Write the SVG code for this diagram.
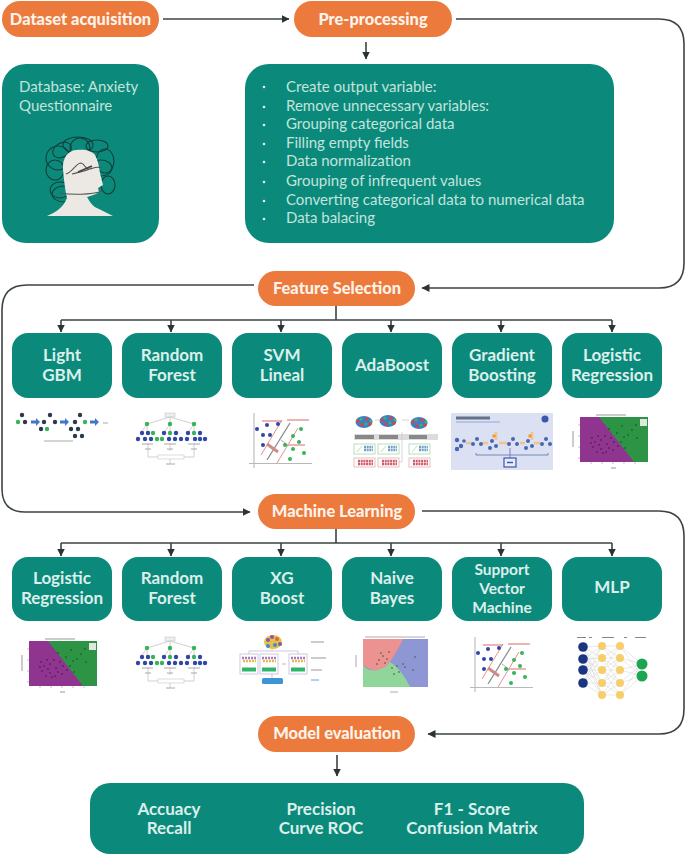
<svg xmlns="http://www.w3.org/2000/svg" xmlns:xlink="http://www.w3.org/1999/xlink" width="685" height="857" viewBox="0 0 685 857">
<style>
text{font-family:"Lato","Open Sans","Liberation Sans",sans-serif}
.pill{fill:#ec7a3c}
.box{fill:#0b8a7b}
.pt{fill:#fdf3ea;font-size:16.4px;font-weight:900;text-anchor:middle}
.bt{fill:#dcefeb;font-size:17px;font-weight:700;text-anchor:middle}
.bs{fill:#dcefeb;font-size:15.5px;font-weight:700;text-anchor:middle}
.lt{fill:#c3e3dd;font-size:15px}
.ct{fill:#dcefeb;font-size:17px;font-weight:700;text-anchor:middle}
.dot{fill:#dcefeb}
.c{fill:none;stroke:#3c4443;stroke-width:1.6}
.thin{fill:none;stroke:#c4c4c4;stroke-width:.8}
.b{fill:#2f46a8}.g{fill:#35b558}.d{fill:#2c3a4c}
.red{fill:none;stroke:#e58585;stroke-width:.9}
.cap{stroke:#a8a8a8;stroke-width:1;fill:none}
.fig{filter:url(#soft)}
</style>
<defs>
<filter id="soft" x="-10%" y="-10%" width="120%" height="120%"><feGaussianBlur stdDeviation="0.45"/></filter>
<marker id="ah" markerWidth="9" markerHeight="9" refX="7.500" refY="4" orient="auto" markerUnits="userSpaceOnUse"><path d="M0 0L8 4L0 8Z" fill="#2c3433"/></marker>
<g id="forest">
<rect x="28" y="0" width="10" height="4" fill="#eee" stroke="#bbb" stroke-width=".5"/>
<path class="thin" d="M33 4L10 11M33 4V11M33 4L57 11M10 11L4 20M10 11V20M33 11L27 20M33 11V20M57 11L51 20M57 11V20M11 30V38M33 30V38M57 30V38M11 38V44H57V38M33 46V51"/>
<g class="g"><circle cx="10" cy="11" r="2.200"/><circle cx="33" cy="11" r="2.200"/><circle cx="57" cy="11" r="2.200"/><circle cx="16" cy="20" r="2.200"/><circle cx="20" cy="26" r="2.200"/><circle cx="25" cy="26" r="2.200"/><circle cx="33" cy="20" r="2.200"/><circle cx="57" cy="20" r="2.200"/></g>
<g class="b"><circle cx="5" cy="20" r="2.200"/><circle cx="11" cy="20" r="2.200"/><circle cx="27" cy="20" r="2.200"/><circle cx="39" cy="20" r="2.200"/><circle cx="51" cy="20" r="2.200"/><circle cx="63" cy="20" r="2.200"/><circle cx="1" cy="26" r="2.200"/><circle cx="8" cy="26" r="2.200"/><circle cx="14" cy="26" r="2.200"/><circle cx="32" cy="26" r="2.200"/><circle cx="38" cy="26" r="2.200"/><circle cx="44" cy="26" r="2.200"/><circle cx="50" cy="26" r="2.200"/><circle cx="58" cy="26" r="2.200"/><circle cx="63" cy="26" r="2.200"/><circle cx="68" cy="26" r="2.200"/></g>
<rect x="21" y="42" width="26" height="4" fill="#fff" stroke="#bbb" stroke-width=".5"/>
<path class="cap" d="M5 31H16M27 31H39M51 31H63M8 36H14M30 36H36M54 36H60M29 51H38"/>
</g>
<g id="svm">
<path d="M5 0V55M0 50.500H63" fill="none" stroke="#b9b9b9" stroke-width="1.100"/>
<path class="red" d="M12 42L33 7M28 50L49 15"/>
<path d="M18 47L41 10" fill="none" stroke="#8a8a8a" stroke-width="1.300"/>
<path d="M13 8H33M38 7H60M40 32H56" stroke="#dd6a6a" stroke-width="1" fill="none"/>
<path d="M18 31L29 39" stroke="#d08a8a" stroke-width="3" fill="none"/>
<path d="M32 27L40 33" stroke="#999" stroke-width=".8" fill="none"/>
<g class="b"><circle cx="8" cy="16" r="2"/><circle cx="18" cy="12" r="2"/><circle cx="29" cy="11" r="2"/><circle cx="14" cy="22" r="2"/><circle cx="21" cy="22" r="2"/><circle cx="14" cy="32" r="2"/></g>
<g class="g"><circle cx="44" cy="23" r="2"/><circle cx="52" cy="16" r="2"/><circle cx="36" cy="32" r="2"/><circle cx="50" cy="29" r="2"/><circle cx="44" cy="36" r="2"/><circle cx="55" cy="40" r="2"/><circle cx="41" cy="46" r="2"/></g>
</g>
<g id="logit">
<rect x="0" y="0" width="68" height="45" fill="#2e9444"/>
<path d="M0 0H19L54 45H0Z" fill="#8f358f"/>
<rect x="60" y="2" width="7" height="7" fill="#dfe8df"/>
<path d="M11 21h2M14 25h2M17 19h2M20 23h2M12 30h2M20 32h2M26 27h2M30 21h2M16 35h2M25 35h2M32 33h2M37 29h2M24 19h2M10 26h2M28 31h2M18 28h2M33 25h2M22 36h2" stroke="#4a1a50" stroke-width="1.200"/>
<path d="M28 12h2M41 9h2M47 18h2M56 21h2M40 25h2M44 31h2M51 13h2M36 16h2M43 20h2M55 8h2" stroke="#14502a" stroke-width="1.200"/>
<path d="M11 45v2M22 45v2M33 45v2M44 45v2M55 45v2M-2 8h2M-2 19h2M-2 30h2M-2 41h2" stroke="#999" stroke-width=".6"/>
<path d="M-7 14V30M31 51H36M16 -2H46" stroke="#999" stroke-width="1"/>
</g>
<g id="cloud">
<ellipse cx="0" cy="0" rx="8.500" ry="6" fill="#3a7fc8"/>
<g fill="#d8453f"><circle cx="-6" cy="-1" r="1.700"/><circle cx="-2" cy="3" r="1.700"/><circle cx="3" cy="-3" r="1.700"/><circle cx="6" cy="2" r="1.700"/></g>
<g fill="#45b06e"><circle cx="-3" cy="-3" r="1.500"/><circle cx="2" cy="2" r="1.500"/><circle cx="7" cy="-1" r="1.500"/></g>
</g>
<g id="adapanel">
<rect x="0" y="0" width="21" height="10" fill="#fff" stroke="#a8d8b0" stroke-width=".8"/>
<path d="M3 8L8 2" stroke="#8fc89a" stroke-width=".6"/>
<path d="M10 3h9M10 6h9" stroke="#6f9fc8" stroke-width="2.500" stroke-dasharray="2 .7"/>
<rect x="0" y="14" width="21" height="9" fill="#fff" stroke="#e4b0b0" stroke-width=".8"/>
<path d="M4 17h15M4 20h15" stroke="#d05a6a" stroke-width="2.500" stroke-dasharray="2 .7"/>
</g>
<g id="xgpanel">
<rect x="0" y="0" width="18" height="20" fill="#fff" stroke="#cdbfe0" stroke-width=".9"/>
<path d="M2 4h14" stroke="#a878c8" stroke-width="2.500" stroke-dasharray="2 1"/>
<path d="M3 7h13" stroke="#e8b840" stroke-width="2.500" stroke-dasharray="2 1"/>
<path d="M2 15.500h14" stroke="#2fb56a" stroke-width="4"/>
</g>
</defs>

<g id="connectors">
<path class="c" marker-end="url(#ah)" d="M163 19H289"/>
<path class="c" marker-end="url(#ah)" d="M366 42V59"/>
<path class="c" marker-end="url(#ah)" d="M456 19H659Q684 19 684 44V263Q684 288 659 288H422"/>
<path class="c" marker-end="url(#ah)" d="M254 285H27Q2 285 2 310V489Q2 512 25 512H250"/>
<path class="c" d="M336 306V320M61 320H612"/>
<path class="c" marker-end="url(#ah)" d="M61 320V332"/>
<path class="c" marker-end="url(#ah)" d="M171 320V332"/>
<path class="c" marker-end="url(#ah)" d="M281 320V332"/>
<path class="c" marker-end="url(#ah)" d="M391 320V332"/>
<path class="c" marker-end="url(#ah)" d="M501 320V332"/>
<path class="c" marker-end="url(#ah)" d="M612 320V332"/>
<path class="c" marker-end="url(#ah)" d="M422 511H659Q684 511 684 536V709Q684 734 659 734H428"/>
<path class="c" d="M336 529V543M61 543H612"/>
<path class="c" marker-end="url(#ah)" d="M61 543V556"/>
<path class="c" marker-end="url(#ah)" d="M171 543V556"/>
<path class="c" marker-end="url(#ah)" d="M281 543V556"/>
<path class="c" marker-end="url(#ah)" d="M391 543V556"/>
<path class="c" marker-end="url(#ah)" d="M501 543V556"/>
<path class="c" marker-end="url(#ah)" d="M612 543V556"/>
<path class="c" marker-end="url(#ah)" d="M337 755V776"/>
</g>

<g id="dataset-acquisition"><rect class="pill" x="2" y="1" width="157" height="36" rx="18"/><text class="pt" x="80.500" y="24.500">Dataset acquisition</text></g>
<g id="pre-processing"><rect class="pill" x="294" y="1" width="158" height="36" rx="18"/><text class="pt" x="373" y="24.500">Pre-processing</text></g>

<g id="database">
<rect class="box" x="2" y="64" width="157" height="179" rx="24"/>
<text class="lt" x="19" y="92">Database: Anxiety</text>
<text class="lt" x="19" y="111">Questionnaire</text>
<g class="fig">
<g fill="none" stroke="#123f3b" stroke-width="1.100">
<ellipse cx="58" cy="158" rx="12" ry="12"/><ellipse cx="55" cy="170" rx="9" ry="10"/><ellipse cx="62" cy="150" rx="10" ry="7" transform="rotate(-30 62 150)"/>
<ellipse cx="78" cy="145" rx="15" ry="8"/><ellipse cx="80" cy="148" rx="10" ry="10"/><ellipse cx="97" cy="146" rx="11" ry="6"/>
<ellipse cx="105" cy="161" rx="9" ry="12"/><ellipse cx="101" cy="168" rx="11" ry="8"/><ellipse cx="108" cy="185" rx="7" ry="9"/>
<ellipse cx="60" cy="190" rx="10" ry="8"/><ellipse cx="64" cy="194" rx="12" ry="8"/>
</g>
<path d="M47 216C56 212 63 208 67 198C65 190 64 180 63 170C62 158 68 150 77 150C85 149 92 151 95 155C98 160 99 167 100 173L103 185L98 188L99 192C95 195 90 196 87 197L90 202C93 206 96 208 99 209L113 216Z" fill="#ece9e4"/>
<path d="M66 174C73 172 76 163 81 163C86 164 84 170 90 169C94 168 96 166 102 168M72 174C78 172 84 172 92 168M60 193C72 195 90 195 103 191" fill="none" stroke="#555" stroke-width="1.100"/>
<path d="M78 172L92 166" stroke="#444" stroke-width="1.800"/>
</g>
</g>

<g id="preprocessing-steps">
<rect class="box" x="245" y="64" width="369" height="179" rx="24"/>
<g class="dot"><circle cx="264" cy="87" r="1.300"/><circle cx="264" cy="107" r="1.300"/><circle cx="264" cy="125" r="1.300"/><circle cx="264" cy="144" r="1.300"/><circle cx="264" cy="162" r="1.300"/><circle cx="264" cy="182" r="1.300"/><circle cx="264" cy="201" r="1.300"/><circle cx="264" cy="219" r="1.300"/></g>
<text class="lt" x="286" y="92">Create output variable:</text>
<text class="lt" x="286" y="111">Remove unnecessary variables:</text>
<text class="lt" x="286" y="129">Grouping categorical data</text>
<text class="lt" x="286" y="148">Filling empty fields</text>
<text class="lt" x="286" y="166">Data normalization</text>
<text class="lt" x="286" y="186">Grouping of infrequent values</text>
<text class="lt" x="286" y="205">Converting categorical data to numerical data</text>
<text class="lt" x="286" y="223">Data balacing</text>
</g>

<g id="feature-selection"><rect class="pill" x="258" y="271" width="157" height="35" rx="17.500"/><text class="pt" x="337" y="293.500">Feature Selection</text></g>

<g id="fs-lightgbm"><rect class="box" x="12" y="333" width="100" height="65" rx="16"/><text class="bt" x="62" y="361">Light</text><text class="bt" x="62" y="381">GBM</text></g>
<g id="fs-random-forest"><rect class="box" x="122" y="333" width="100" height="65" rx="16"/><text class="bt" x="172" y="361">Random</text><text class="bt" x="172" y="381">Forest</text></g>
<g id="fs-svm"><rect class="box" x="232" y="333" width="100" height="65" rx="16"/><text class="bt" x="282" y="361">SVM</text><text class="bt" x="282" y="381">Lineal</text></g>
<g id="fs-adaboost"><rect class="box" x="342" y="333" width="100" height="65" rx="16"/><text class="bt" x="392" y="371">AdaBoost</text></g>
<g id="fs-gradient-boosting"><rect class="box" x="452" y="333" width="100" height="65" rx="16"/><text class="bt" x="502" y="361">Gradient</text><text class="bt" x="502" y="381">Boosting</text></g>
<g id="fs-logistic-regression"><rect class="box" x="562" y="333" width="100" height="65" rx="16"/><text class="bt" x="612" y="361">Logistic</text><text class="bt" x="612" y="381">Regression</text></g>

<g id="fig-lightgbm" class="fig">
<g class="d"><circle cx="22" cy="415" r="2.200"/><circle cx="25" cy="422" r="2.200"/><circle cx="50" cy="415" r="2.200"/><circle cx="44" cy="422" r="2.200"/><circle cx="55" cy="422" r="2.200"/><circle cx="41" cy="429" r="2.200"/><circle cx="80" cy="415" r="2.200"/><circle cx="75" cy="422" r="2.200"/><circle cx="71" cy="429" r="2.200"/><circle cx="78" cy="429" r="2.200"/><circle cx="75" cy="436" r="2.200"/><circle cx="82" cy="436" r="2.200"/></g>
<g class="g"><circle cx="18" cy="422" r="2.200"/><circle cx="47" cy="429" r="2.200"/><circle cx="85" cy="422" r="2.200"/></g>
<g fill="#3f77c8"><path d="M31 420.500h5v-2.500l4 4-4 4v-2.500h-5z"/><path d="M60 420.500h5v-2.500l4 4-4 4v-2.500h-5z"/><path d="M90 420.500h5v-2.500l4 4-4 4v-2.500h-5z"/></g>
<path d="M103 423H108M44 441H73" class="cap"/>
</g>
<use id="fig-rf-1" class="fig" xlink:href="#forest" href="#forest" x="137" y="413"/>
<use id="fig-svm-1" class="fig" xlink:href="#svm" href="#svm" x="249" y="413"/>

<g id="fig-adaboost" class="fig">
<use xlink:href="#cloud" href="#cloud" x="364" y="422"/>
<use xlink:href="#cloud" href="#cloud" x="388" y="421"/>
<use xlink:href="#cloud" href="#cloud" x="419" y="423"/>
<rect x="354" y="434" width="84" height="6" fill="#dcdcdc"/>
<path d="M355 437H374M379 437H398M409 437H427" stroke="#888" stroke-width="4"/>
<use xlink:href="#adapanel" href="#adapanel" x="354" y="444"/>
<use xlink:href="#adapanel" href="#adapanel" x="378" y="444"/>
<use xlink:href="#adapanel" href="#adapanel" x="409" y="444"/>
<path d="M402 432V462H399M375 420H380M402 420H409" fill="none" stroke="#ccc" stroke-width=".8"/>
</g>

<g id="fig-gradient-boosting" class="fig">
<rect x="451" y="413" width="102" height="57" fill="#dbe1f2"/>
<path d="M456 418H490" stroke="#667086" stroke-width="3"/>
<path d="M456 422H500" stroke="#7c9ad8" stroke-width=".8"/>
<circle cx="545" cy="419" r="3.500" fill="#3a58ac"/>
<path d="M466 443H471M483 443H488M499 443H507M520 443H525M534 443H540M496 432V440M532 432V440" stroke="#f0c48a" stroke-width="2.500"/>
<g fill="#4a65b5"><circle cx="457" cy="440" r="2.200"/><circle cx="461" cy="446" r="2.200"/><circle cx="457" cy="449" r="2.200"/><circle cx="464" cy="441" r="1.800"/><circle cx="477" cy="439" r="2"/><circle cx="473" cy="444" r="2"/><circle cx="481" cy="444" r="2"/><circle cx="492" cy="441" r="2"/><circle cx="496" cy="446" r="2"/><circle cx="490" cy="448" r="2"/><circle cx="513" cy="439" r="2"/><circle cx="509" cy="444" r="2"/><circle cx="517" cy="444" r="2"/><circle cx="528" cy="441" r="2"/><circle cx="532" cy="446" r="2"/><circle cx="526" cy="448" r="2"/><circle cx="546" cy="439" r="2"/><circle cx="542" cy="444" r="2"/><circle cx="550" cy="444" r="2"/></g>
<g fill="#ef9a3a"><circle cx="494" cy="436" r="1.800"/><circle cx="530" cy="436" r="1.800"/></g>
<path d="M476 453V455H548V453M510 448V458" fill="none" stroke="#7284bd" stroke-width="1"/>
<rect x="504" y="458" width="12" height="9" fill="#e8ecf8" stroke="#3a58ac" stroke-width="1.200"/>
<path d="M507 462.500H513" stroke="#3a58ac" stroke-width="1.500"/>
</g>

<use id="fig-logit-1" class="fig" xlink:href="#logit" href="#logit" x="580" y="417"/>

<g id="machine-learning"><rect class="pill" x="258" y="494" width="157" height="35" rx="17.500"/><text class="pt" x="337" y="516.500">Machine Learning</text></g>

<g id="ml-logistic-regression"><rect class="box" x="12" y="557" width="100" height="64" rx="16"/><text class="bt" x="62" y="584">Logistic</text><text class="bt" x="62" y="604">Regression</text></g>
<g id="ml-random-forest"><rect class="box" x="122" y="557" width="100" height="64" rx="16"/><text class="bt" x="172" y="584">Random</text><text class="bt" x="172" y="604">Forest</text></g>
<g id="ml-xgboost"><rect class="box" x="232" y="557" width="100" height="64" rx="16"/><text class="bt" x="282" y="584">XG</text><text class="bt" x="282" y="604">Boost</text></g>
<g id="ml-naive-bayes"><rect class="box" x="342" y="557" width="100" height="64" rx="16"/><text class="bt" x="392" y="584">Naive</text><text class="bt" x="392" y="604">Bayes</text></g>
<g id="ml-svm"><rect class="box" x="452" y="557" width="100" height="64" rx="16"/><text class="bs" x="502" y="574.500">Support</text><text class="bs" x="502" y="593.500">Vector</text><text class="bs" x="502" y="612.500">Machine</text></g>
<g id="ml-mlp"><rect class="box" x="562" y="557" width="100" height="64" rx="16"/><text class="bt" x="612" y="593">MLP</text></g>

<use id="fig-logit-2" class="fig" xlink:href="#logit" href="#logit" x="29" y="641"/>
<use id="fig-rf-2" class="fig" xlink:href="#forest" href="#forest" x="137" y="637"/>

<g id="fig-xgboost" class="fig">
<ellipse cx="273" cy="642" rx="9" ry="7" fill="#e8c04a"/><circle cx="268" cy="640" r="2" fill="#8a55b0"/><circle cx="275" cy="645" r="2" fill="#3a8fd0"/><circle cx="277" cy="639" r="2" fill="#e0653a"/><circle cx="268" cy="646" r="2" fill="#3a8fd0"/><circle cx="272" cy="637" r="2" fill="#8a55b0"/><circle cx="280" cy="644" r="2" fill="#8a55b0"/>
<path d="M249 654V651H298V654M272 649V651" fill="none" stroke="#cdbfe0" stroke-width=".9"/>
<use xlink:href="#xgpanel" href="#xgpanel" x="240" y="654"/>
<use xlink:href="#xgpanel" href="#xgpanel" x="260" y="654"/>
<use xlink:href="#xgpanel" href="#xgpanel" x="289" y="654"/>
<path d="M282 664H286" stroke="#bbb" stroke-width="1"/>
<path d="M272 674V678" stroke="#cdbfe0" stroke-width="1"/>
<rect x="262" y="678" width="21" height="6" rx="1.500" fill="#3d95d6"/>
<path d="M311 642H324M311 658H326M311 670H322" stroke="#999" stroke-width="1"/>
<path d="M311 680H319" stroke="#5aa9e0" stroke-width="1"/>
</g>

<g id="fig-naive-bayes" class="fig">
<rect x="363" y="639" width="65" height="48" fill="#8f96d4"/>
<path d="M363 639H403C398 650 393 657 390 662C385 669 376 672 370 669C367 668 365 666 363 665Z" fill="#ec9290"/>
<path d="M363 665C367 672 382 673 390 662C400 668 406 679 410 687H363Z" fill="#90d69a"/>
<path d="M378 660h2M382 656h2M384 663h2M376 664h2M388 652h2M391 668h2M396 666h2M402 664h2M398 672h2M393 674h2M380 653h2M386 659h2M404 667h2M414 657h2M412 670h2" stroke="#555" stroke-width="1"/>
<path d="M356 655V667M390 692H398M365 637H425" stroke="#aaa" stroke-width="1"/>
</g>

<use id="fig-svm-2" class="fig" xlink:href="#svm" href="#svm" x="470" y="637"/>

<g id="fig-mlp" class="fig">
<path d="M583 647L602 646M583 647L602 658M583 647L602 670M583 647L602 683M583 647L602 695M583 659L602 646M583 659L602 658M583 659L602 670M583 659L602 683M583 659L602 695M583 670L602 646M583 670L602 658M583 670L602 670M583 670L602 683M583 670L602 695M583 683L602 646M583 683L602 658M583 683L602 670M583 683L602 683M583 683L602 695M602 646L620 646M602 646L620 658M602 646L620 670M602 658L620 646M602 658L620 658M602 658L620 670M602 658L620 683M602 670L620 646M602 670L620 658M602 670L620 670M602 670L620 683M602 670L620 695M602 683L620 658M602 683L620 670M602 683L620 683M602 683L620 695M602 695L620 670M602 695L620 683M602 695L620 695M620 646L642 664M620 646L642 676M620 658L642 664M620 658L642 676M620 670L642 664M620 670L642 676M620 683L642 664M620 683L642 676M620 695L642 664M620 695L642 676" stroke="#d0d0d0" stroke-width=".5" fill="none"/>
<g fill="#1c3683"><circle cx="583" cy="647" r="4.800"/><circle cx="583" cy="659" r="4.800"/><circle cx="583" cy="670" r="4.800"/><circle cx="583" cy="683" r="4.800"/></g>
<g fill="#f6cf6a"><circle cx="602" cy="646" r="4"/><circle cx="602" cy="658" r="4"/><circle cx="602" cy="670" r="4"/><circle cx="602" cy="683" r="4"/><circle cx="602" cy="695" r="4"/><circle cx="620" cy="646" r="4"/><circle cx="620" cy="658" r="4"/><circle cx="620" cy="670" r="4"/><circle cx="620" cy="683" r="4"/><circle cx="620" cy="695" r="4"/></g>
<g fill="#1fa650"><circle cx="642" cy="664" r="5.500"/><circle cx="642" cy="676" r="5.500"/></g>
<path d="M577 637.500H586M589 637.500H592M602 637.500H614M624 637.500H627M635 637.500H646" stroke="#888" stroke-width="1"/>
</g>

<g id="model-evaluation"><rect class="pill" x="258" y="716" width="157" height="36" rx="18"/><text class="pt" x="337" y="739">Model evaluation</text></g>

<g id="metrics">
<rect class="box" x="90" y="783" width="494" height="71" rx="20"/>
<text class="ct" x="169" y="815">Accuacy</text><text class="ct" x="169" y="834">Recall</text>
<text class="ct" x="321" y="815">Precision</text><text class="ct" x="321" y="834">Curve ROC</text>
<text class="ct" x="472" y="815">F1 - Score</text><text class="ct" x="472" y="834">Confusion Matrix</text>
</g>
</svg>
